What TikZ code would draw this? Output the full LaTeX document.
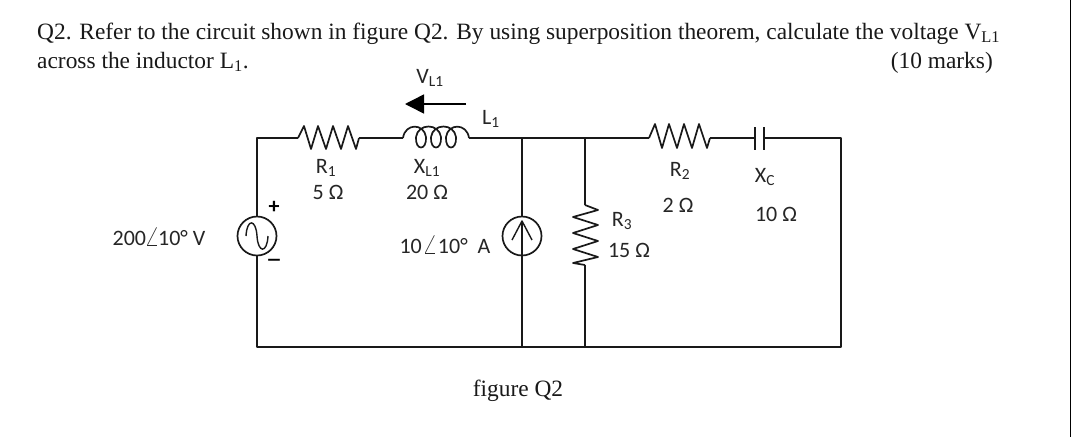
\documentclass[tikz,border=0pt]{standalone}
\usepackage{fontspec}
\setmainfont{Liberation Serif}
\newfontfamily\labelfont{Carlito}
\usetikzlibrary{arrows.meta}
\tikzset{
  wire/.style = {line width=1.7pt, line join=round, black!90},
  src/.style = {draw, circle, line width=1.7pt, black!90, minimum size=39pt, inner sep=0pt},
  txt/.style = {font=\fontsize{23.4}{23.4}\selectfont, anchor=base west, inner sep=0pt, black!90},
  lab/.style = {font=\labelfont\fontsize{22}{22}\selectfont, inner sep=0pt, black!85},
  sgn/.style = {font=\labelfont\bfseries\fontsize{22}{22}\selectfont, inner sep=0pt}
}
\newcommand{\sbs}[1]{\textsubscript{#1}}
\newcommand{\bigangle}{\kern-1.5pt\scalebox{1.35}{$\angle$}\kern-1.5pt}
\begin{document}
\begin{tikzpicture}[x=1pt, y=-1pt]
\useasboundingbox (0,0) rectangle (1071,437);
\fill[white] (0,0) rectangle (1071,437); % page
\draw[line width=1pt] (1070.5,0) -- (1070.5,437); % right border of the page

\node[txt] (title) at (37,39) {Q2. Refer to the circuit shown in figure Q2. By using superposition theorem, calculate the voltage V\sbs{L1}}; % question
\node[txt] (across) at (37,68) {across the inductor L\sbs{1}.}; % question, second line
\node[txt, anchor=base east] (marks) at (993,68) {(10 marks)}; % marks
\node[txt, anchor=base] (figname) at (518,396) {figure Q2}; % caption

\coordinate (tl) at (257,138); % corners and junctions
\coordinate (tr) at (841,138);
\coordinate (bl) at (257,347);
\coordinate (br) at (841,347);
\coordinate (ja) at (522,138);
\coordinate (jb) at (585,138);
\coordinate (ka) at (522,347);
\coordinate (kb) at (585,347);
\coordinate (r1a) at (298,138); % R1 ends
\coordinate (r1b) at (359,138);
\coordinate (l1a) at (403,138); % L1 ends
\coordinate (l1b) at (469,138);
\coordinate (r2a) at (649,138); % R2 ends
\coordinate (r2b) at (710,138);
\coordinate (xca) at (755,138); % Xc ends
\coordinate (xcb) at (764,138);
\coordinate (r3a) at (585,205); % R3 ends
\coordinate (r3b) at (585,265);

\node[src] (vs) at (257,236) {}; % voltage source
\node[src] (cs) at (522,236) {}; % current source

\draw[wire] (vs) -- (tl) -- (r1a); % left side
\draw[wire] (r1b) -- (l1a);
\draw[wire] (l1b) -- (ja) -- (jb) -- (r2a);
\draw[wire] (r2b) -- (xca);
\draw[wire] (xcb) -- (tr) -- (br) -- (kb) -- (ka) -- (bl) -- (vs); % right side and bottom
\draw[wire] (ja) -- (cs) -- (ka); % current source branch
\draw[wire] (jb) -- (r3a);
\draw[wire] (r3b) -- (kb);

\draw[wire] (r1a) -- ++(6,-12) -- ++(7,23) -- ++(7,-23) -- ++(8,23) -- ++(7,-23) -- ++(8,23) -- ++(7,-23) -- ++(8,23) -- (r1b); % R1
\draw[wire] (r2a) -- ++(6,-14) -- ++(7,24) -- ++(7,-24) -- ++(8,24) -- ++(7,-24) -- ++(8,24) -- ++(7,-24) -- ++(8,24) -- (r2b); % R2
\draw[wire] (r3a) -- ++(13,5) -- ++(-25,7) -- ++(25,8) -- ++(-25,8) -- ++(25,8) -- ++(-25,8) -- ++(25,8) -- ++(-25,6) -- (r3b); % R3

% L1, three loops under the arches
\draw[wire] (l1a) .. controls (405,123) and (424,123) .. (426,137);
\foreach \cx in {420,435,450}
  \draw[wire] (\cx+6,137) .. controls (\cx+7,151) and (\cx-5,151) .. (\cx-4,137);
\foreach \cx in {416,431}
  \draw[wire] (\cx,137) .. controls (\cx+2,123) and (\cx+23,123) .. (\cx+25,137);
\draw[wire] (446,137) .. controls (448,123) and (467,123) .. (l1b);

\draw[wire] (755,127) -- (755,150); % Xc plates
\draw[wire] (764,127) -- (764,150);

\draw[wire, line width=1.4pt] (246,236) .. controls (247,218) and (256,219) .. (257,236) .. controls (258,253) and (267,254) .. (268,236); % sine
\draw[wire, line width=1.4pt] (cs.south) -- (522,221); % stem in current source
\draw[wire, line width=1.4pt] (512,240) -- (522,221) -- (532,240); % arrow in current source

\draw[line width=1.5pt, -{Triangle[length=19pt, width=19pt]}] (466,104) -- (405,104); % V_L1 arrow

\node[lab] (vl1) at (430,78) {V\sbs{L1}};
\node[lab] (l1) at (491,119) {L\sbs{1}};
\node[lab] (r1) at (326,168) {R\sbs{1}};
\node[lab] (r1v) at (328,192) {5 Ω};
\node[lab] (xl1) at (427,168) {X\sbs{L1}};
\node[lab] (xl1v) at (427,192) {20 Ω};
\node[lab] (r2) at (680,171) {R\sbs{2}};
\node[lab] (r2v) at (678,205) {2 Ω};
\node[lab] (xc) at (765,177) {X\sbs{C}};
\node[lab] (xcv) at (776,214) {10 Ω};
\node[lab] (r3) at (622,221) {R\sbs{3}};
\node[lab] (r3v) at (629,250) {15 Ω};
\node[lab] (csv) at (445,245) {10\kern2pt\bigangle\kern2pt10°\kern5pt{} A};
\node[lab] (vsv) at (159,237) {200\bigangle10° V};
\node[sgn] (plus) at (274,207) {+};
\node[sgn] (minus) at (274,263) {\scalebox{1.5}[1]{–}};
\end{tikzpicture}
\end{document}
